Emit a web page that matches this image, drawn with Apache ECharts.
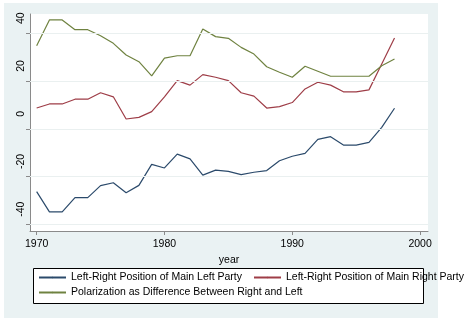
<!DOCTYPE html>
<html>
<head>
<meta charset="utf-8">
<script src="https://cdn.jsdelivr.net/npm/echarts@6/dist/echarts.min.js"></script>
<style>
html,body{margin:0;padding:0;background:#fff;}
#chart{width:474px;height:323px;}
</style>
</head>
<body>
<div id="chart"></div>
<script>
const years = [1970,1971,1972,1973,1974,1975,1976,1977,1978,1979,1980,1981,1982,1983,1984,1985,1986,1987,1988,1989,1990,1991,1992,1993,1994,1995,1996,1997,1998];
const leftParty = [-26.3,-34.8,-34.8,-28.8,-28.8,-23.8,-22.6,-26.8,-23.7,-14.9,-16.4,-10.6,-12.6,-19.4,-17.3,-17.8,-19.2,-18.2,-17.5,-13.4,-11.5,-10.3,-4.4,-3.3,-6.8,-6.8,-5.7,0.6,8.6];
const rightParty = [8.7,10.4,10.4,12.4,12.4,15.1,13.4,4.1,4.8,7.2,13.4,20.2,18.3,22.7,21.6,20.2,15.1,13.7,8.7,9.3,11.0,16.7,19.5,18.3,15.5,15.5,16.3,27.1,38.0];
const polarization = [34.8,45.6,45.6,41.5,41.5,39.0,35.8,30.9,28.1,22.2,29.6,30.6,30.6,41.8,38.6,37.9,34.1,31.3,26.0,23.7,21.6,26.2,24.1,22.0,22.0,22.0,22.0,26.4,29.2];
const xTicks = [1970,1980,1990,2000];
const yTicks = [-40,-20,0,20,40];
const seriesNames = ['Left-Right Position of Main Left Party','Left-Right Position of Main Right Party','Polarization as Difference Between Right and Left'];
const xTitle = 'year';

const FONT = '"Liberation Sans", Arial, sans-serif';
const colors = ['#2b4a6b','#9e3d47','#6f8240'];
const pair = arr => years.map((y,i)=>[y,arr[i]]);

const chart = echarts.init(document.getElementById('chart'), null, {renderer:'canvas'});
const Y_MIN = -42.8, Y_MAX = 48.08;
// label axis lives on a taller invisible grid (0..260 px) so its end labels are never clamped
const L_MIN = -61.25, L_MAX = 47.65;

const mkSeries = (name, arr, c, extra) => Object.assign({
  name, type:'line', data: pair(arr), symbol:'none', showSymbol:false,
  xAxisIndex:0, yAxisIndex:0,
  lineStyle:{color:c, width:1.2}, itemStyle:{color:c}, clip:false, z:3,
  emphasis:{disabled:true}, animation:false
}, extra||{});

const legendText = {color:'#000', fontSize:10.5, fontFamily:FONT};

chart.setOption({
  animation:false,
  backgroundColor:'#fff',
  textStyle:{fontFamily:FONT},
  graphic:[
    {type:'rect', shape:{x:4,y:3,width:434,height:315}, style:{fill:'#eaf2f3'}, z:-10, silent:true},
    {type:'rect', shape:{x:33.5,y:268.5,width:390,height:35}, style:{fill:'#ffffff', stroke:'#000', lineWidth:1}, z:1, silent:true}
  ],
  grid:[
    {left:30, top:14, width:398, height:217, show:true, backgroundColor:'#ffffff', borderWidth:0, containLabel:false},
    {left:30, top:0, width:398, height:260, show:false, containLabel:false}
  ],
  xAxis:[
    {
      gridIndex:0, type:'value', min:1969.48, max:2000.62,
      name:xTitle, nameLocation:'middle', nameGap:22,
      nameTextStyle:{color:'#000', fontSize:10.5, fontFamily:FONT},
      axisLine:{show:true, onZero:false, lineStyle:{color:'#8a8a8a', width:1}},
      axisTick:{show:true, length:4, customValues:xTicks, lineStyle:{color:'#8a8a8a'}},
      axisLabel:{show:true, customValues:xTicks, margin:8, color:'#000', fontSize:10.5, fontFamily:FONT,
        formatter: v => String(v)},
      splitLine:{show:false}
    },
    {gridIndex:1, type:'value', min:0, max:1, show:false}
  ],
  yAxis:[
    {
      gridIndex:0, type:'value', min:Y_MIN, max:Y_MAX, position:'left',
      axisLine:{show:true, onZero:false, lineStyle:{color:'#8a8a8a', width:1}},
      axisTick:{show:true, length:4, customValues:yTicks, lineStyle:{color:'#8a8a8a'}},
      axisLabel:{show:false},
      splitLine:{show:false}
    },
    {
      gridIndex:1, type:'value', min:L_MIN, max:L_MAX, position:'left',
      axisLine:{show:false}, axisTick:{show:false}, splitLine:{show:false},
      axisLabel:{show:true, customValues:yTicks, rotate:90, margin:3, color:'#000', fontSize:10.5, fontFamily:FONT,
        formatter: v => String(v)}
    }
  ],
  legend:[
    {left:38, top:272, padding:0, itemWidth:27, itemHeight:2, data:[seriesNames[0]], textStyle:legendText, selectedMode:false},
    {left:253, top:272, padding:0, itemWidth:27, itemHeight:2, data:[seriesNames[1]], textStyle:legendText, selectedMode:false},
    {left:38, top:287, padding:0, itemWidth:27, itemHeight:2, data:[seriesNames[2]], textStyle:legendText, selectedMode:false}
  ],
  series:[
    mkSeries(seriesNames[0], leftParty, colors[0], {
      markLine:{silent:true, symbol:'none', label:{show:false}, animation:false,
        lineStyle:{color:'#eaf0f0', width:1, type:'solid'},
        data: yTicks.map(v=>({yAxis:v}))}
    }),
    mkSeries(seriesNames[1], rightParty, colors[1]),
    mkSeries(seriesNames[2], polarization, colors[2])
  ]
});
</script>
</body>
</html>
